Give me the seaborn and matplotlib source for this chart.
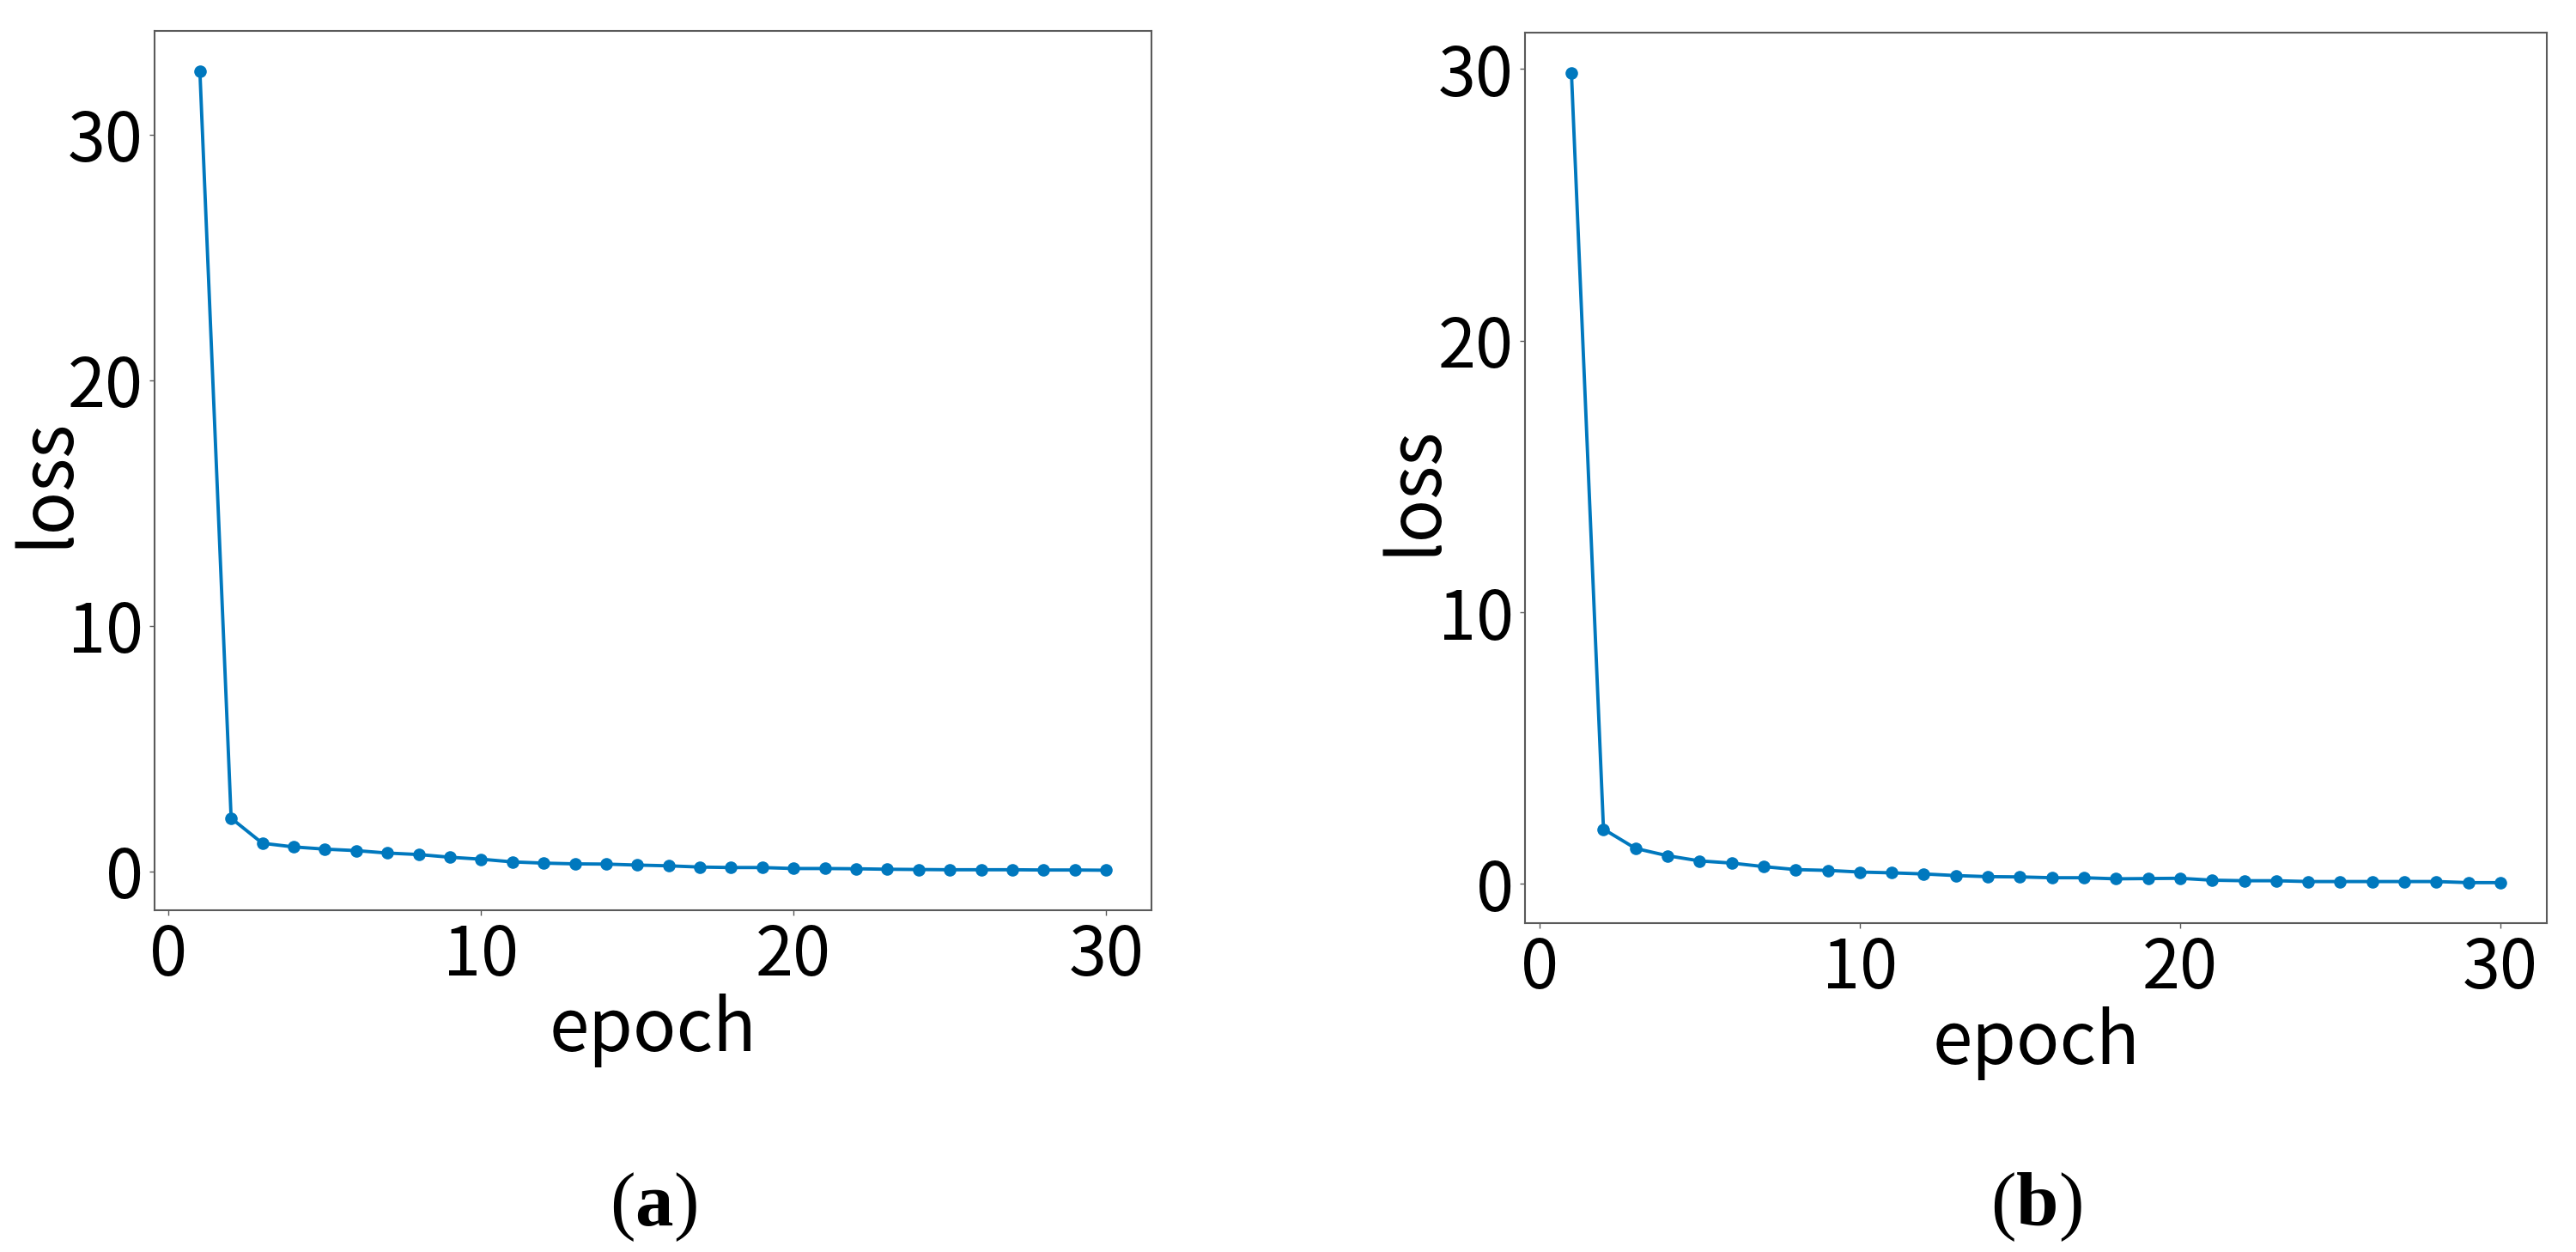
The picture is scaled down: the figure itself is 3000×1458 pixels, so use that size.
import pandas as pd
import seaborn as sns
import matplotlib
matplotlib.use("Agg")
import matplotlib.pyplot as plt

epochs = list(range(1, 31))
loss_a = [32.6, 2.16, 1.14, 0.99, 0.90, 0.84, 0.74, 0.68, 0.57, 0.49,
          0.38, 0.33, 0.30, 0.29, 0.25, 0.22, 0.17, 0.15, 0.15, 0.11,
          0.11, 0.10, 0.08, 0.07, 0.06, 0.06, 0.06, 0.05, 0.05, 0.04]
loss_b = [29.85, 2.02, 1.31, 1.04, 0.85, 0.77, 0.64, 0.53, 0.50, 0.44,
          0.41, 0.37, 0.31, 0.27, 0.26, 0.23, 0.23, 0.19, 0.20, 0.21,
          0.14, 0.12, 0.12, 0.09, 0.09, 0.09, 0.09, 0.09, 0.05, 0.05]
captions = ['a', 'b']

sns.set_theme(style='ticks')
plt.rcParams['font.family'] = ['Noto Sans CJK JP', 'DejaVu Sans']
plt.rcParams['text.color'] = 'black'
plt.rcParams['axes.labelcolor'] = 'black'
plt.rcParams['mathtext.fontset'] = 'custom'
plt.rcParams['mathtext.rm'] = 'Liberation Serif'
plt.rcParams['mathtext.bf'] = 'Liberation Serif:bold'

line_color = '#0078BE'
spine_color = '#5a5a5a'

fig = plt.figure(figsize=(30, 14.58), dpi=100)
ax_a = fig.add_axes([0.060, 0.2730, 0.387, 0.7023])
ax_b = fig.add_axes([0.592, 0.2627, 0.3967, 0.7112])

panels = [(ax_a, loss_a, -0.0715, 0.486, -0.0947),
          (ax_b, loss_b, -0.0723, 0.486, -0.0935)]

for (ax, values, ylx, yly, xly), cap in zip(panels, captions):
    data = pd.DataFrame({'epoch': epochs, 'loss': values})
    sns.lineplot(data=data, x='epoch', y='loss', ax=ax, color=line_color,
                 linewidth=2.8, marker='o', markersize=10.5, markeredgewidth=0)
    for sp in ax.spines.values():
        sp.set_visible(True)
        sp.set_color(spine_color)
        sp.set_linewidth(1.5)
    ax.set_xticks([0, 10, 20, 30])
    ax.set_yticks([0, 10, 20, 30])
    ax.tick_params(axis='both', labelsize=57, length=4.5, width=1,
                   color=spine_color, labelcolor='black', pad=5)
    ax.set_xlabel('epoch', fontsize=60)
    ax.set_ylabel('loss', fontsize=60)
    ax.yaxis.set_label_coords(ylx, yly)
    ax.xaxis.set_label_coords(0.5, xly)
    pos = ax.get_position()
    fig.text(pos.x0 + pos.width / 2, 1 - 1427 / 1458,
             r'($\mathbf{' + cap + '}$)', ha='center', va='baseline',
             fontsize=64, family='Liberation Serif', color='black')

fig.savefig('out.png', dpi=100, facecolor='white')
